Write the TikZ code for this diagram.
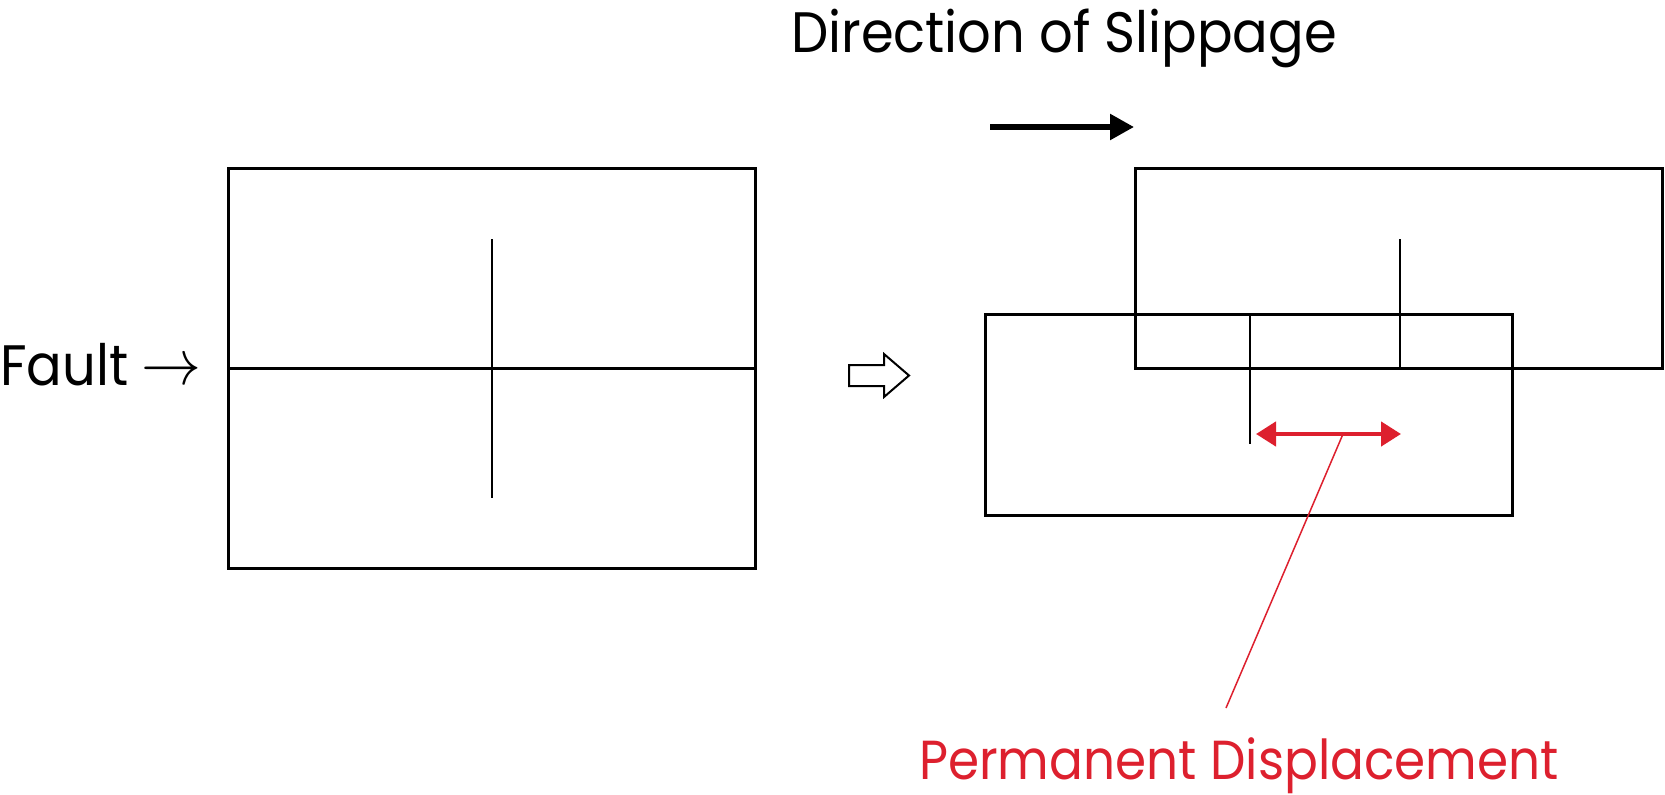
\documentclass[tikz,border=0pt]{standalone}
\usepackage{fontspec}
\setmainfont{Poppins}
\usetikzlibrary{arrows.meta}
\definecolor{slipred}{RGB}{221,32,46}
\tikzset{
  block/.style={draw,line width=3pt},
  marker/.style={draw,line width=1.5pt},
  caption/.style={inner sep=0pt,anchor=base west,xscale=0.925,font=\fontsize{57}{57}\selectfont}
}

\begin{document}
\begin{tikzpicture}[x=1pt,y=-1pt]
  \useasboundingbox (0,0) rectangle (1665,795);

  % before slippage
  \draw[block] (228,168) rectangle (755,568);
  \draw[block] (228,368) -- (755,368);
  \draw[marker] (492,239) -- (492,498);
  \node[caption] (fault) at (0,385) {Fault\hspace{14pt}\raisebox{1pt}{\scalebox{2.6}{$\rightarrow$}}};

  % hollow arrow
  \draw[line width=2pt,line join=miter] (849,365) -- (884,365) -- (884,354) -- (909,375.5)
    -- (884,397) -- (884,386) -- (849,386) -- cycle;

  % after slippage
  \draw[block] (1135,168) rectangle (1662,368);
  \draw[marker] (1400,239) -- (1400,368);
  \draw[block] (985,314) rectangle (1512,515);
  \draw[marker] (1250,314) -- (1250,444);

  \node[caption] (slip) at (791,52) {Direction of Slippage};
  \coordinate (slipstart) at (990,127);
  \coordinate (slipend) at (1134,127);
  \draw[line width=5.5pt,-{Triangle[length=24pt,width=25pt]}] (slipstart) -- (slipend);

  % displacement
  \coordinate (dispL) at (1256,434);
  \coordinate (dispR) at (1401,434);
  \coordinate (dispmid) at (1343,434);
  \coordinate (leaderend) at (1226,708);
  \draw[slipred,line width=4.5pt,{Triangle[length=20pt,width=24pt]}-{Triangle[length=20pt,width=24pt]}] (dispL) -- (dispR);
  \draw[slipred,line width=1.5pt] (dispmid) -- (leaderend);
  \node[caption,text=slipred,xscale=0.985,font=\fontsize{55}{55}\selectfont] (disp) at (919,779) {Permanent Displacement};
\end{tikzpicture}
\end{document}
